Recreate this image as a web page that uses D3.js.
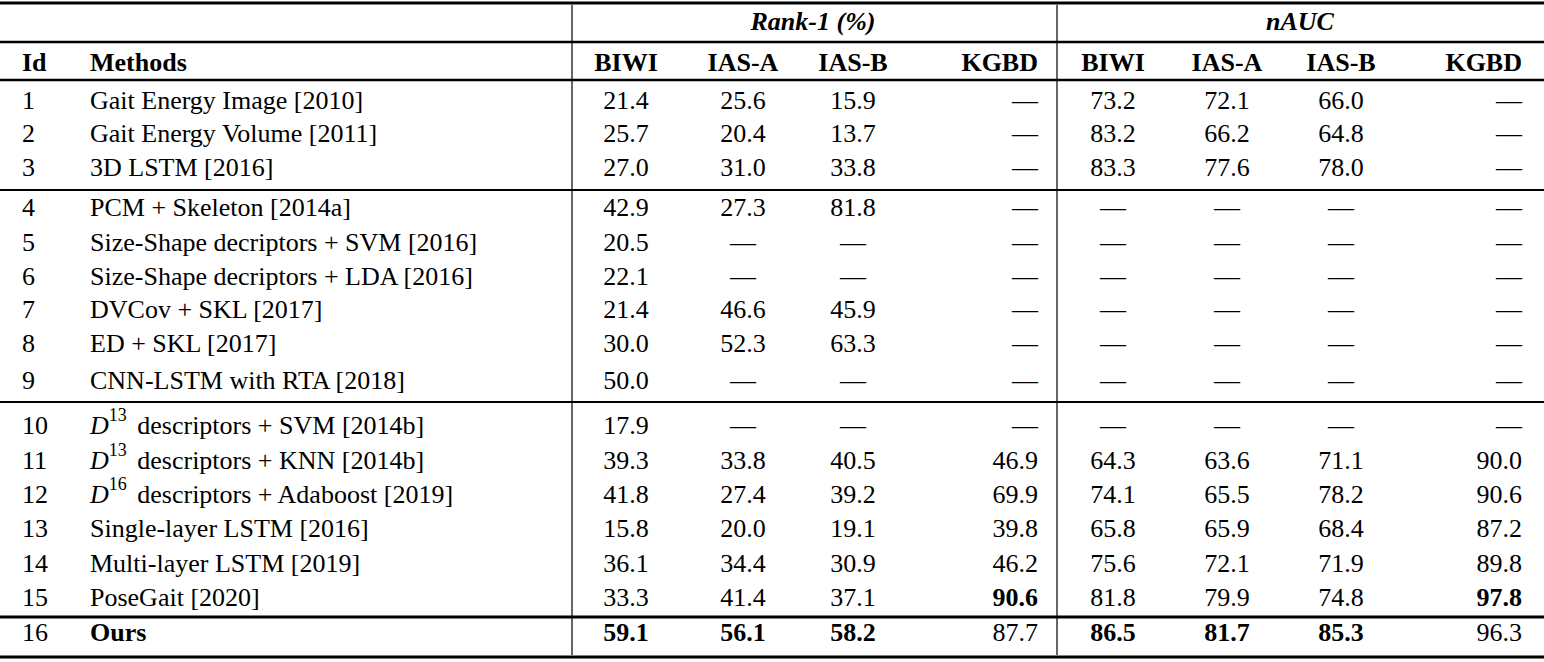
<!DOCTYPE html>
<html><head><meta charset="utf-8">
<script src="https://cdn.jsdelivr.net/npm/d3@7"></script>
<style>body{margin:0;background:#fff}svg text{font-family:"Liberation Serif","Times New Roman",serif;fill:#000}</style>
</head><body><svg id="c" width="1544" height="662"></svg>
<script>
const groups = ["Rank-1 (%)", "nAUC"];
const datasets = ["BIWI", "IAS-A", "IAS-B", "KGBD"];
const ids = [1,2,3,4,5,6,7,8,9,10,11,12,13,14,15,16];
const methods = [
  "Gait Energy Image [2010]","Gait Energy Volume [2011]","3D LSTM [2016]",
  "PCM + Skeleton [2014a]","Size-Shape decriptors + SVM [2016]","Size-Shape decriptors + LDA [2016]",
  "DVCov + SKL [2017]","ED + SKL [2017]","CNN-LSTM with RTA [2018]",
  "D|13| descriptors + SVM [2014b]","D|13| descriptors + KNN [2014b]","D|16| descriptors + Adaboost [2019]",
  "Single-layer LSTM [2016]","Multi-layer LSTM [2019]","PoseGait [2020]","Ours"];
const rank1 = [
  [21.4,25.6,15.9,null],[25.7,20.4,13.7,null],[27.0,31.0,33.8,null],
  [42.9,27.3,81.8,null],[20.5,null,null,null],[22.1,null,null,null],
  [21.4,46.6,45.9,null],[30.0,52.3,63.3,null],[50.0,null,null,null],
  [17.9,null,null,null],[39.3,33.8,40.5,46.9],[41.8,27.4,39.2,69.9],
  [15.8,20.0,19.1,39.8],[36.1,34.4,30.9,46.2],[33.3,41.4,37.1,90.6],[59.1,56.1,58.2,87.7]];
const nauc = [
  [73.2,72.1,66.0,null],[83.2,66.2,64.8,null],[83.3,77.6,78.0,null],
  [null,null,null,null],[null,null,null,null],[null,null,null,null],
  [null,null,null,null],[null,null,null,null],[null,null,null,null],
  [null,null,null,null],[64.3,63.6,71.1,90.0],[74.1,65.5,78.2,90.6],
  [65.8,65.9,68.4,87.2],[75.6,72.1,71.9,89.8],[81.8,79.9,74.8,97.8],[86.5,81.7,85.3,96.3]];
// bold cells: [row index, column index 0-7]
const boldCells = [[14,3],[15,0],[15,1],[15,2],[14,7],[15,4],[15,5],[15,6]];

const rowY = [100,133,167,207,242,276,309,343,380,425,460,494,528,563,597,632];
const svg = d3.select("#c");
const fs = 26;
const cols = [[626,"middle"],[743,"middle"],[853,"middle"],[1038,"end"],[1113,"middle"],[1227,"middle"],[1341,"middle"],[1522,"end"]];
const isBold=(i,c)=>boldCells.some(b=>b[0]===i&&b[1]===c);

function txt(x,y,s,anchor,weight,style){
  return svg.append("text").attr("x",x).attr("y",y).attr("font-size",fs).attr("text-anchor",anchor||"start")
    .attr("dominant-baseline","central").attr("font-weight",weight||"normal").attr("font-style",style||"normal").text(s);
}
txt(813,21,groups[0],"middle","bold","italic");
txt(1300,21,groups[1],"middle","bold","italic");
txt(22,62,"Id","start","bold");
txt(90,62,"Methods","start","bold");
datasets.forEach((d,j)=>{ txt(cols[j][0],62,d,cols[j][1],"bold"); txt(cols[j+4][0],62,d,cols[j+4][1],"bold"); });

ids.forEach((id,i)=>{
  const y = rowY[i];
  txt(22,y,String(id));
  const m = methods[i];
  if(m.includes("|")){
    const p = m.split("|");
    const t = svg.append("text").attr("x",90).attr("y",y).attr("font-size",fs).attr("dominant-baseline","central");
    t.append("tspan").attr("font-style","italic").text(p[0]);
    t.append("tspan").attr("font-size",18).attr("dy",-10).text(p[1]);
    t.append("tspan").attr("dy",10).attr("dx",4).text(p[2]);
  } else txt(90,y,m,"start",id===16?"bold":"normal");
  [rank1[i],nauc[i]].forEach((row,g)=>{
    row.forEach((v,j)=>{
      const ci=g*4+j, c = cols[ci];
      if(v==null) txt(c[0],y,"—",c[1]);
      else txt(c[0],y,v.toFixed(1),c[1],isBold(i,ci)?"bold":"normal");
    });
  });
});
const hl=(y,w)=>svg.append("line").attr("x1",0).attr("x2",1544).attr("y1",y).attr("y2",y).attr("stroke","#000").attr("stroke-width",w);
hl(3,3); hl(42,2.5); hl(80,2.5); hl(190,2.2); hl(402,2.2); hl(617,3); hl(657,3);
[572,1057].forEach(x=>svg.append("line").attr("x1",x).attr("x2",x).attr("y1",5).attr("y2",655).attr("stroke","#000").attr("stroke-width",1.2));
</script></body></html>
